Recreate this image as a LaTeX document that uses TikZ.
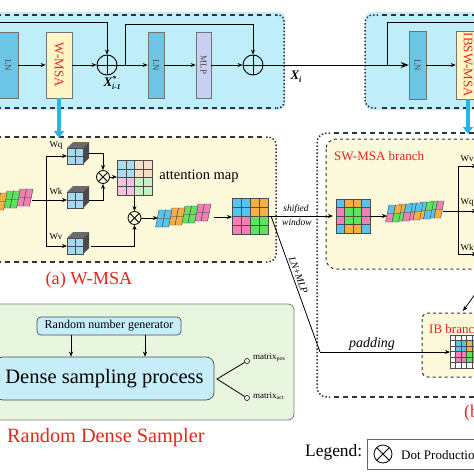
\documentclass[tikz,border=0pt]{standalone}
\usepackage{fontspec}
\setmainfont{Liberation Serif}
\usetikzlibrary{arrows.meta,calc}
\definecolor{cyanbg}{HTML}{BFEEFA}
\definecolor{lnblue}{HTML}{6DC5E6}
\definecolor{msay}{HTML}{FFF6C8}
\definecolor{mlpc}{HTML}{C7CFF2}
\definecolor{panely}{HTML}{FBF9DA}
\definecolor{greenp}{HTML}{E9F6DF}
\definecolor{boxc}{HTML}{C6EEF9}
\definecolor{cyanarr}{HTML}{27B6E2}
\definecolor{redc}{HTML}{E8241C}
\definecolor{cB}{HTML}{55C5F0}
\definecolor{cO}{HTML}{F5B041}
\definecolor{cG}{HTML}{5EE35E}
\definecolor{cK}{HTML}{F27FB5}
\definecolor{aB}{HTML}{A9DCF2}
\definecolor{aP}{HTML}{F9DCC4}
\definecolor{aK}{HTML}{F6C3DC}
\definecolor{aG}{HTML}{C5F1C5}
\definecolor{cubeF}{HTML}{A8D8F0}
\definecolor{cubeT}{HTML}{6A6A6A}
\definecolor{cubeS}{HTML}{4A4A4A}

\newcommand{\tokentile}[6]{%
 \begin{scope}[shift={(#1,#2)},xslant=0.2]
  \draw[cellline,fill=#3] (0,0) rectangle (6.5,8.5);
  \draw[cellline,fill=#4] (6.5,0) rectangle (13,8.5);
  \draw[cellline,fill=#5] (0,8.5) rectangle (6.5,17);
  \draw[cellline,fill=#6] (6.5,8.5) rectangle (13,17);
 \end{scope}}

\newcommand{\cellgrid}[5]{%
 \foreach \cc [count=\k from 0] in {#5}{%
  \pgfmathtruncatemacro\mygi{mod(\k,#4)}%
  \pgfmathtruncatemacro\mygj{floor(\k/#4)}%
  \draw[cellline,fill=\cc] ({#1+\mygi*#3},{#2+\mygj*#3}) rectangle ++(#3,#3);
 }}

\newcommand{\wcube}[2]{%
 \fill[cubeT] (#1,#2) -- ++(6,-6) -- ++(16,0) -- ++(-6,6) -- cycle;
 \fill[cubeS] (#1+16,#2) -- ++(6,-6) -- ++(0,16) -- ++(-6,6) -- cycle;
 \foreach \i in {0,1}{\foreach \j in {0,1}{\draw[cellline,fill=cubeF] (#1+\i*8,#2+\j*8) rectangle ++(8,8);}}
}

\begin{document}
\begin{tikzpicture}[x=1pt,y=-1pt,
 arr/.style={-{Stealth[length=5pt,width=4pt]}, line width=0.8pt},
 ln/.style={line width=0.8pt},
 cellline/.style={draw=black!70,line width=0.45pt},
 dashln/.style={line width=1.5pt,dash pattern=on 5pt off 4pt,black!80},
 dotln/.style={line width=1.5pt,dash pattern=on 1.5pt off 2pt,black!80},
 vbox/.style={draw=black!55,line width=0.6pt,inner sep=0pt},
 lnb/.style={vbox,fill=lnblue,font=\fontsize{9}{9}\selectfont,text=black!70},
 msab/.style={vbox,fill=msay,font=\fontsize{13}{13}\selectfont,text=redc},
 mlpb/.style={vbox,fill=mlpc,font=\fontsize{9}{9}\selectfont,text=black!70},
 opl/.style={circle,draw,line width=0.9pt,minimum size=20pt,inner sep=0pt,
   path picture={\draw[line width=0.9pt] (path picture bounding box.north)--(path picture bounding box.south) (path picture bounding box.east)--(path picture bounding box.west);}},
 otm/.style={circle,draw,line width=0.8pt,minimum size=13pt,inner sep=0pt,
   path picture={\draw[line width=0.8pt] (path picture bounding box.north west)--(path picture bounding box.south east) (path picture bounding box.north east)--(path picture bounding box.south west);}},
 holder/.style={inner sep=0pt,outer sep=0pt},
 wl/.style={font=\fontsize{9}{9}\selectfont},
 smit/.style={font=\fontsize{9.5}{9.5}\selectfont\itshape},
 redt/.style={text=redc,inner sep=0pt},
 rbox/.style={draw=black!70,fill=boxc,rounded corners=4pt,inner sep=0pt,line width=0.7pt},
 bluearrow/.style={draw=cyanarr,line width=3.5pt,-{Triangle[length=7pt,width=10pt]}},
 xlab/.style={font=\fontsize{13}{13}\selectfont\bfseries\itshape,inner sep=1pt}
]
\useasboundingbox (0,0) rectangle (474,474);
\clip (0,0) rectangle (474,474);

% ---------- top blocks ----------
\fill[cyanbg,rounded corners=6pt] (-10,12) rectangle (285,110);
\draw[dashln] (-4,15) -- (276,15);
\draw[dashln] (-4,108) -- (276,108);
\draw[dotln,rounded corners=6pt] (276,15) -- (284,15) -- (284,108) -- (276,108);

\fill[cyanbg,rounded corners=8pt] (365,12) rectangle (490,110);
\draw[dotln,rounded corners=8pt] (378,15) -- (365,15) -- (365,108) -- (378,108);
\draw[dashln] (382,15) -- (480,15);
\draw[dashln] (382,108) -- (480,108);

\node[lnb,minimum width=20pt,minimum height=66pt] (ln1) at (8,65) {\rotatebox{-90}{LN}};
\node[msab,minimum width=26pt,minimum height=66pt] (wmsa) at (59,65) {\rotatebox{-90}{W-MSA}};
\node[opl] (p1) at (107,65) {};
\node[xlab] (xa) at (112,83) {X\makebox[0pt][l]{\raisebox{5pt}{\fontsize{8}{8}\selectfont *}}\raisebox{-3pt}{\fontsize{7.5}{7.5}\selectfont i-1}};
\node[lnb,minimum width=16pt,minimum height=66pt] (ln2) at (156,65) {\rotatebox{-90}{LN}};
\node[mlpb,minimum width=15pt,minimum height=66pt] (mlp) at (203.5,65) {\rotatebox{-90}{MLP}};
\node[opl] (p2) at (253,65) {};
\node[xlab] (xi) at (296,77) {X\raisebox{-3pt}{\fontsize{8}{8}\selectfont i}};
\node[lnb,minimum width=17pt,minimum height=68pt] (ln3) at (417.5,65) {\rotatebox{-90}{LN}};
\node[msab,minimum width=24pt,minimum height=68pt] (ibsw) at (468,65) {\rotatebox{-90}{IBSW-MSA}};

\coordinate (s0) at (-5,22);
\draw[arr] (s0) -| (p1.north);
\draw[arr] (ln1) -- (wmsa);
\draw[arr] (wmsa) -- (p1);
\draw[arr] (p1) -- (ln2);
\coordinate (b1) at (125,65);
\coordinate (b1t) at (125,24);
\draw[ln] (b1) -- (b1t);
\draw[arr] (b1t) -| (p2.north);
\draw[arr] (ln2) -- (mlp);
\draw[arr] (mlp) -- (p2);
\draw[line width=0.9pt,-{Stealth[length=8pt,width=6pt]}] (p2) -- (ln3);
\coordinate (b2) at (387,65);
\coordinate (b2t) at (387,22);
\coordinate (b2r) at (480,22);
\draw[ln] (b2) -- (b2t) -- (b2r);
\draw[arr] (ln3) -- (ibsw);

% ---------- panel (a) ----------
\fill[panely,rounded corners=8pt] (-10,137) rectangle (276,262);
\draw[dashln] (-4,137) -- (266,137);
\draw[dashln] (-4,262) -- (266,262);
\draw[dotln,rounded corners=8pt] (266,137) -- (276,137) -- (276,262) -- (266,262);

\tokentile{20}{189}{cK}{cK}{cK}{cK}
\tokentile{7}{191}{cG}{cG}{cG}{cG}
\tokentile{-6}{193}{cO}{cO}{cO}{cO}
\coordinate (inA) at (32,200);
\coordinate (brA) at (46,200);

\node[wl] at (56,146) {Wq};
\node[wl] at (56,191) {Wk};
\node[wl] at (56,237) {Wv};
\wcube{67}{148}
\wcube{67}{192}
\wcube{67}{238}
\node[holder,minimum size=16pt] (cq) at (75,156) {};
\node[holder,minimum size=16pt] (ck) at (75,200) {};
\node[holder,minimum size=16pt] (cv) at (75,246) {};

\draw[ln] (inA) -- (brA);
\draw[arr] (brA) |- (cq.west);
\draw[arr] (brA) -- (ck.west);
\draw[arr] (brA) |- (cv.west);

\node[otm] (m1) at (103,177) {};
\node[otm] (m2) at (134.5,218) {};
\cellgrid{117}{160}{8.75}{4}{aB,aB,aP,aP,aB,aB,aP,aP,aK,aK,aG,aG,aK,aK,aG,aG}
\node[holder,minimum size=35pt] (att) at (134.5,177.5) {};
\node[font=\fontsize{14.5}{14.5}\selectfont] (attl) at (199,176) {attention map};

\draw[arr] ([xshift=6pt,yshift=3pt]cq.east) -| (m1.north);
\draw[arr] ([xshift=6pt]ck.east) -| (m1.south);
\draw[arr] (m1) -- (m1 -| att.west);
\draw[arr] (att) -- (m2);
\draw[arr] ([xshift=8pt]cv.east) -| (m2.south);

\tokentile{198}{204}{cK}{cK}{cK}{cK}
\tokentile{185}{206}{cG}{cG}{cG}{cG}
\tokentile{172}{208}{cO}{cO}{cO}{cO}
\tokentile{159}{210}{cB}{cB}{cB}{cB}
\node[holder,minimum width=56pt,minimum height=20pt] (st2) at (186,217) {};
\draw[arr] (m2) -- (m2 -| st2.west);

\cellgrid{232}{198}{9}{4}{cB,cB,cO,cO,cB,cB,cO,cO,cK,cK,cG,cG,cK,cK,cG,cG}
\node[holder,minimum size=36pt] (og) at (250,216) {};
\draw[arr] (st2.east) -- (st2.east -| og.west);

\node[redt,font=\fontsize{18.3}{18.3}\selectfont] (alab) at (89,280) {(a) W-MSA};

% ---------- panel (b) ----------
\draw[dotln,rounded corners=10pt] (330,133) -- (317,133) -- (317,397) -- (330,397);
\draw[dashln] (334,133) -- (480,133);
\draw[dashln] (334,397) -- (480,397);

\filldraw[fill=panely,draw=black!80,line width=1pt,dash pattern=on 3pt off 3pt,rounded corners=10pt] (326,139) rectangle (495,269);
\filldraw[fill=panely,draw=black!80,line width=1pt,dash pattern=on 3pt off 3pt,rounded corners=6pt] (422,313) rectangle (495,377);

\node[redt,anchor=west,font=\fontsize{13}{13}\selectfont] (swt) at (334,156) {SW-MSA branch};
\cellgrid{336}{199}{8.5}{4}{cB,cO,cO,cB,cK,cG,cG,cK,cK,cG,cG,cK,cB,cO,cO,cB}
\node[holder,minimum size=34pt] (swg) at (353,216) {};

\coordinate (jn) at (271,216);
\draw[ln] (og.east) -- (jn);
\draw[arr,shorten >=3pt] (jn) -- (swg.west);
\node[smit] (shl) at (296,209) {shified};
\node[smit] (wnl) at (297,222) {window};

\tokentile{431}{201}{cG}{cK}{cB}{cO}
\tokentile{420.5}{202}{cB}{cG}{cO}{cB}
\tokentile{410}{203}{cB}{cB}{cK}{cO}
\tokentile{399.5}{204}{cO}{cB}{cG}{cK}
\tokentile{389}{205}{cB}{cO}{cK}{cG}
\node[holder,minimum width=56pt,minimum height=20pt] (st3) at (415,213) {};
\draw[arr] (swg.east) -- (swg.east -| st3.west);

\coordinate (br3) at (458,211);
\coordinate (wvR) at (477,166);
\coordinate (wqR) at (477,211);
\coordinate (wkR) at (477,254);
\draw[ln] (st3.east |- br3) -- (br3);
\draw[arr] (br3) |- (wvR);
\draw[arr] (br3) -- (wqR);
\draw[arr] (br3) |- (wkR);
\node[wl] at (467,159) {Wv};
\node[wl] at (467,203) {Wq};
\node[wl] at (467,247) {Wk};

\node[redt,anchor=west,font=\fontsize{13}{13}\selectfont] (ibt) at (429,329) {IB branch};
\cellgrid{450}{335}{5.5}{6}{white,white,white,white,white,white,white,cB,cB,cO,cO,white,white,cB,cB,cO,cO,white,white,cK,cK,cG,cG,white,white,cK,cK,cG,cG,white,white,white,white,white,white,white}
\node[holder,minimum size=33pt] (ibg) at (466.5,351.5) {};
\coordinate (ibs) at (478,290);
\coordinate (ibe) at (463,311);
\draw[arr] (ibs) -- (ibe);

\coordinate (pd) at (320,352);
\draw[ln] (jn) -- (pd) node[pos=0.45,sloped,above,font=\fontsize{10}{10}\selectfont\itshape,inner sep=2pt] {LN+MLP};
\draw[arr] (pd) -- (pd -| ibg.west) node[pos=0.4,above,font=\fontsize{14}{14}\selectfont\itshape,inner sep=1.5pt] {padding};

\node[redt,anchor=west,font=\fontsize{18}{18}\selectfont] (blab) at (464,413) {(b) IBSW-MSA};

% ---------- random dense sampler ----------
\filldraw[fill=greenp,draw=black!50,line width=0.8pt,rounded corners=6pt] (-10,304) rectangle (294,420);
\node[rbox,minimum width=144pt,minimum height=18pt,font=\fontsize{12}{12}\selectfont] (rng) at (109,326) {Random number generator};
\node[rbox,rounded corners=8pt,minimum width=219pt,minimum height=43pt,font=\fontsize{20.5}{20.5}\selectfont] (dsp) at (104.5,378.5) {Dense sampling process};
\draw[arr] ([xshift=-38pt]rng.south) -- ([xshift=-38pt]rng.south |- dsp.north);
\draw[arr] ([xshift=36pt]rng.south) -- ([xshift=36pt]rng.south |- dsp.north);
\coordinate (fork) at (217,379);
\node[circle,draw,line width=0.6pt,inner sep=0pt,minimum size=5pt,fill=white] (o1) at (247,361) {};
\node[circle,draw,line width=0.6pt,inner sep=0pt,minimum size=5pt,fill=white] (o2) at (247,398) {};
\draw[ln] (o1) -- (fork) -- (o2);
\node[anchor=west,font=\fontsize{9}{9}\selectfont,inner sep=1pt] (mp) at (252,358) {matrix\textsubscript{pos}};
\node[anchor=west,font=\fontsize{9}{9}\selectfont,inner sep=1pt] (ma) at (252,396) {matrix\textsubscript{act}};
\node[redt,anchor=west,font=\fontsize{20.3}{20.3}\selectfont] (rdl) at (7,438) {Random Dense Sampler};

% ---------- legend ----------
\node[anchor=west,font=\fontsize{17.4}{17.4}\selectfont,inner sep=0pt] (leg) at (305,452) {Legend:};
\draw[black!60,line width=0.8pt] (367,439) rectangle (490,469);
\node[otm,minimum size=18pt] (lgo) at (383,454) {};
\node[anchor=west,font=\fontsize{13}{13}\selectfont,inner sep=0pt] (lgt) at (401,455) {Dot Production};

% ---------- blue arrows ----------
\coordinate (wa) at (59,138);
\coordinate (ia) at (468,134);
\draw[bluearrow] (wmsa.south) -- (wa);
\draw[bluearrow] (ibsw.south) -- (ia);
\end{tikzpicture}
\end{document}
